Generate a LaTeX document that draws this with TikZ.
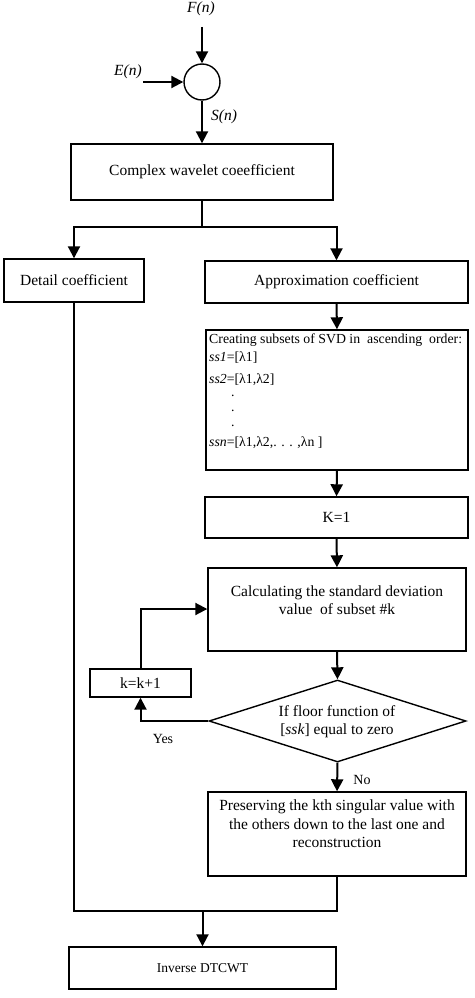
\documentclass[tikz,border=0pt]{standalone}
\usepackage{fontspec}
\setmainfont{Liberation Serif}
\usetikzlibrary{arrows.meta,shapes.geometric}
\begin{document}
\begin{tikzpicture}[x=1pt,y=-1pt,
  box/.style={draw, line width=1.4pt, inner sep=0pt},
  conn/.style={line width=2pt},
  arr/.style={conn, -{Triangle[length=12pt,width=12pt]}},
  lbl/.style={inner sep=0pt},
  font=\fontsize{15.5}{18}\selectfont]
\useasboundingbox (0,0) rectangle (474,998);
% inputs
\node[lbl, font=\fontsize{15.5}{18}\selectfont\itshape] (fn) at (201,9) {F(n)};
\node[lbl, font=\fontsize{15.5}{18}\selectfont\itshape] (en) at (128,72) {E(n)};
\node[lbl, font=\fontsize{15.5}{18}\selectfont\itshape] (sn) at (224,117) {S(n)};
\node[draw, circle, line width=1.4pt, minimum size=36pt, inner sep=0pt] (sum) at (202,82) {};
\coordinate (ftop) at (202,27);
\coordinate (eleft) at (143,82);
\draw[arr] (ftop) -- (sum.north);
\draw[arr] (eleft) -- (sum.west);
% boxes
\node[box, minimum width=262pt, minimum height=56pt] (cw) at (202,172) {Complex wavelet coeefficient};
\node[box, minimum width=140pt, minimum height=43pt] (det) at (74,280.5) {Detail coefficient};
\node[box, minimum width=263pt, minimum height=42pt] (app) at (336.5,282) {Approximation coefficient};
\node[box, minimum width=262pt, minimum height=140pt] (svd) at (337,400) {};
\node[box, minimum width=263pt, minimum height=41pt] (k1) at (336.5,517.5) {K=1};
\node[box, minimum width=258pt, minimum height=83pt] (std) at (337,609.5) {};
\node[draw, diamond, line width=1.4pt, inner sep=0pt, minimum width=257pt, minimum height=82pt] (dec) at (337.5,721) {};
\node[box, minimum width=101pt, minimum height=28pt] (kk) at (140.5,683) {k=k+1};
\node[box, minimum width=258pt, minimum height=84pt] (pres) at (337,834) {};
\node[box, minimum width=267pt, minimum height=42pt] (inv) at (202.5,968) {\fontsize{13.5}{16}\selectfont Inverse DTCWT};
% texts inside boxes
\begin{scope}[every node/.style={lbl, anchor=west, font=\fontsize{13.8}{16}\selectfont}]
\node (s0) at (209,340) {Creating subsets of SVD in \ ascending \ order:};
\node (s1) at (209,358) {\textit{ss1}=[λ1]};
\node (s2) at (209,380) {\textit{ss2}=[λ1,λ2]};
\node (d1) at (231,396) {.};
\node (d2) at (231,411) {.};
\node (d3) at (231,426) {.};
\node (sn2) at (209,443) {\textit{ssn}=[λ1,λ2,. . . ,λn ]};
\end{scope}
\node[lbl, align=center] (stdt) at (337,600) {Calculating the standard deviation\\value \ of subset \#k};
\node[lbl, align=center] (dect) at (337,721.5) {If floor function of\\{[}\textit{ssk}{]} equal to zero};
\node[lbl, align=center, font=\fontsize{15.5}{18.5}\selectfont] (prest) at (337,824) {Preserving the kth singular value with\\the others down to the last one and\\reconstruction};
\node[lbl] (yes) at (163,739) {\fontsize{14}{16}\selectfont Yes};
\node[lbl] (no) at (362,780) {\fontsize{14}{16}\selectfont No};
% connectors
\draw[arr] (sum.south) -- (cw.north);
\coordinate (split) at (202,227);
\draw[conn] (cw.south) -- (split);
\draw[arr] (split) -| (det.north);
\draw[arr] (split) -| (app.north);
\draw[arr] (app.south) -- (svd.north);
\draw[arr] (svd.south) -- (k1.north);
\draw[arr] (k1.south) -- (std.north);
\draw[arr] (std.south) -- (dec.north);
\draw[arr] (dec.west) -| (kk.south);
\coordinate (loop) at (140.5,609);
\draw[arr] (kk.north) -- (loop) -- (std.west |- loop);
\draw[arr] (dec.south) -- (pres.north);
\coordinate (j1) at (74,911);
\coordinate (j2) at (337,911);
\coordinate (jm) at (202.5,911);
\draw[conn] (det.south) -- (j1) -- (j2) -- (pres.south);
\draw[arr] (jm) -- (inv.north);
\end{tikzpicture}
\end{document}
